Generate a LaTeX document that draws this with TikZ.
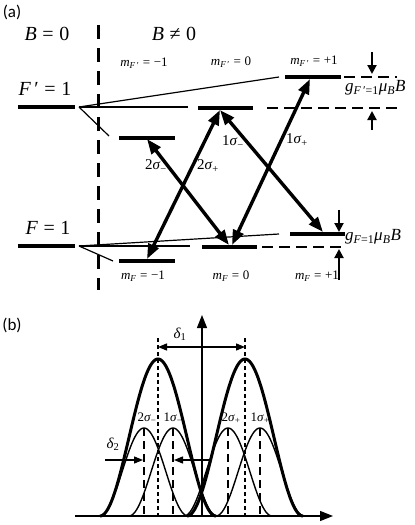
\documentclass[tikz,border=0pt]{standalone}
\usepackage{fontspec}
\setmainfont{Liberation Serif}
\newfontfamily\labfont{Carlito}
\usetikzlibrary{arrows.meta}
\newcommand\eqs{\hspace{0.28em}=\hspace{0.28em}}
\newcommand\sgm{\textit{σ}}
\begin{document}
\begin{tikzpicture}[x=1pt,y=-1pt,
  levelline/.style={line width=4pt},
  thinline/.style={line width=1.2pt},
  extline/.style={line width=2pt, dash pattern=on 11pt off 6pt},
  vdash/.style={line width=3pt, dash pattern=on 14pt off 9pt},
  trans/.style={line width=3.4pt, {Triangle[length=15pt,width=11pt]}-{Triangle[length=15pt,width=11pt]}},
  splitarrow/.style={line width=2pt, -{Triangle[length=9pt,width=9pt]}},
  big/.style={font=\fontsize{20}{24}\selectfont},
  mlab/.style={font=\fontsize{13}{15}\selectfont},
  glab/.style={font=\fontsize{17}{20}\selectfont},
  slab/.style={font=\fontsize{15}{18}\selectfont, inner sep=1pt},
  blab/.style={font=\fontsize{13}{15}\selectfont, inner sep=1pt},
  panel/.style={font=\labfont\fontsize{17}{20}\selectfont},
  thickcurve/.style={line width=3pt},
  thincurve/.style={line width=1.4pt},
  centerdash/.style={line width=1.2pt, dash pattern=on 4pt off 3pt},
  peakdash/.style={line width=1.8pt, dash pattern=on 8pt off 5pt},
  axis/.style={line width=1.3pt, -{Triangle[length=13pt,width=10pt]}},
  darrow/.style={line width=1.3pt, -{Triangle[length=9pt,width=7pt]}}]
\useasboundingbox (0,0) rectangle (415,525);
\fill[white] (0,0) rectangle (415,525);

% ---------------- (a) ----------------
\node[panel] (pa) at (12,12) {(a)};
\node[big] (Bzero) at (47,34) {\textit{B}\eqs 0};
\node[big] (Bnz) at (174,34) {\textit{B}\hspace{0.28em}≠\hspace{0.28em}0};
\coordinate (vt) at (98,25);
\coordinate (vb) at (98,290);
\draw[vdash] (vt) -- (vb);

\node[big] (Fp) at (45,89) {\textit{F}\,′\eqs 1};
\node[big] (F) at (48,228) {\textit{F}\eqs 1};

\node[mlab] (mpm) at (144,63) {\textit{m}\textsubscript{\textit{F}\,′}\eqs −1};
\node[mlab] (mp0) at (231,62) {\textit{m}\textsubscript{\textit{F}\,′}\eqs 0};
\node[mlab] (mpp) at (314,61) {\textit{m}\textsubscript{\textit{F}\,′}\eqs +1};
\node[mlab] (mm) at (143,276) {\textit{m}\textsubscript{\textit{F}}\eqs −1};
\node[mlab] (m0) at (231,276) {\textit{m}\textsubscript{\textit{F}}\eqs 0};
\node[mlab] (mp) at (317,276) {\textit{m}\textsubscript{\textit{F}}\eqs +1};

% upper levels
\coordinate (Ua) at (18,107); \coordinate (Ub) at (75,107);
\coordinate (O1) at (79,107);
\coordinate (Uma) at (119,138); \coordinate (Umb) at (175,138);
\coordinate (U0a) at (198,108); \coordinate (U0b) at (253,108);
\coordinate (Upa) at (285,77); \coordinate (Upb) at (341,77);
\coordinate (Udiag) at (109,136);
\coordinate (Uhor) at (188,107);
\coordinate (Urise) at (279,77);
\coordinate (U0x) at (267,108); \coordinate (U0y) at (397,108);
\coordinate (Upx) at (344,77); \coordinate (Upy) at (397,77);
\draw[levelline] (Ua) -- (Ub);
\draw[levelline] (Uma) -- (Umb);
\draw[levelline] (U0a) -- (U0b);
\draw[levelline] (Upa) -- (Upb);
\draw[thinline] (O1) -- (Udiag);
\draw[thinline] (O1) -- (Uhor);
\draw[thinline] (O1) -- (Urise);
\draw[extline] (U0x) -- (U0y);
\draw[extline] (Upx) -- (Upy);

% lower levels
\coordinate (La) at (18,246); \coordinate (Lb) at (75,246);
\coordinate (O2) at (79,246);
\coordinate (Lma) at (119,261); \coordinate (Lmb) at (175,261);
\coordinate (L0a) at (202,247); \coordinate (L0b) at (257,247);
\coordinate (Lpa) at (290,234); \coordinate (Lpb) at (345,234);
\coordinate (Ldiag) at (113,261);
\coordinate (Lhor) at (190,246);
\coordinate (Lrise) at (279,234);
\coordinate (L0x) at (262,247); \coordinate (L0y) at (345,247);
\draw[levelline] (La) -- (Lb);
\draw[levelline] (Lma) -- (Lmb);
\draw[levelline] (L0a) -- (L0b);
\draw[levelline] (Lpa) -- (Lpb);
\draw[thinline] (O2) -- (Ldiag);
\draw[thinline] (O2) -- (Lhor);
\draw[thinline] (O2) -- (Lrise);
\draw[extline] (L0x) -- (L0y);

% splitting arrows and labels
\coordinate (s1a) at (372,52); \coordinate (s1b) at (372,74);
\coordinate (s2a) at (372,130); \coordinate (s2b) at (372,111);
\coordinate (s3a) at (339,210); \coordinate (s3b) at (339,232);
\coordinate (s4a) at (339,280); \coordinate (s4b) at (339,249);
\draw[splitarrow] (s1a) -- (s1b);
\draw[splitarrow] (s2a) -- (s2b);
\draw[splitarrow] (s3a) -- (s3b);
\draw[splitarrow] (s4a) -- (s4b);
\node[glab, anchor=west, inner sep=0pt] (gu) at (345,88) {\textit{g}\textsubscript{\textit{F}\,′=1}\textit{μ}\textsubscript{\textit{B}}\textit{B}};
\node[glab, anchor=west, inner sep=0pt] (gl) at (345,237) {\textit{g}\textsubscript{\textit{F}=1}\textit{μ}\textsubscript{\textit{B}}\textit{B}};

% transitions
\coordinate (t2pA) at (147,259); \coordinate (t2pB) at (220,110);
\coordinate (t2mA) at (147,139); \coordinate (t2mB) at (229,245);
\coordinate (t1mA) at (220,110); \coordinate (t1mB) at (323,232);
\coordinate (t1pA) at (232,245); \coordinate (t1pB) at (310,79);
\draw[trans] (t2pA) -- (t2pB);
\draw[trans] (t2mA) -- (t2mB);
\draw[trans] (t1mA) -- (t1mB);
\draw[trans] (t1pA) -- (t1pB);
\node[slab] (l2m) at (156,166) {2\sgm\textsubscript{−}};
\node[slab] (l2p) at (208,166) {2\sgm\textsubscript{+}};
\node[slab] (l1m) at (233,142) {1\sgm\textsubscript{−}};
\node[slab] (l1p) at (297,140) {1\sgm\textsubscript{+}};

% ---------------- (b) ----------------
\node[panel] (pb) at (12,325) {(b)};
\coordinate (ax0) at (202,516); \coordinate (axt) at (202,315);
\coordinate (hx0) at (75,516); \coordinate (hxt) at (333,516);
\draw[axis] (ax0) -- (axt);
\draw[axis] (hx0) -- (hxt);

% center dashed lines
\coordinate (c1t) at (158,338); \coordinate (c1b) at (158,516);
\coordinate (c2t) at (245,338); \coordinate (c2b) at (245,516);
\draw[centerdash] (c1t) -- (c1b);
\draw[centerdash] (c2t) -- (c2b);
% peak dashed lines
\foreach \px/\nm in {144/pa1,173/pa2,228/pa3,260/pa4}{
  \coordinate (\nm t) at (\px,428);
  \coordinate (\nm b) at (\px,516);
  \draw[peakdash] (\nm t) -- (\nm b);
}

% curves
\draw[thickcurve] plot[domain=-58:58,samples=81] ({158+\x},{516-157*(0.5+0.5*cos(\x*180/58))});
\draw[thickcurve] plot[domain=-58:58,samples=81] ({245+\x},{516-157*(0.5+0.5*cos(\x*180/58))});
\foreach \cx in {144,173,228,260}{
  \draw[thincurve] plot[domain=-44:44,samples=61] ({\cx+\x},{516-88*(0.5+0.5*cos(\x*180/44))});
}

% delta arrows
\coordinate (d1l) at (158,347); \coordinate (d1r) at (245,347);
\draw[darrow, {Triangle[length=9pt,width=7pt]}-{Triangle[length=9pt,width=7pt]}] (d1l) -- (d1r);
\node[blab, font=\fontsize{15}{18}\selectfont] (dl1) at (180,334) {\textit{δ}\textsubscript{1}};
\coordinate (d2a) at (105,460); \coordinate (d2b) at (143,460);
\coordinate (d2c) at (212,460); \coordinate (d2d) at (174,460);
\draw[darrow] (d2a) -- (d2b);
\draw[darrow] (d2c) -- (d2d);
\node[blab, font=\fontsize{15}{18}\selectfont] (dl2) at (113,444) {\textit{δ}\textsubscript{2}};

\node[blab] (b2m) at (147,418) {2\sgm\textsubscript{−}};
\node[blab] (b1m) at (173,418) {1\sgm\textsubscript{−}};
\node[blab] (b2p) at (231,418) {2\sgm\textsubscript{+}};
\node[blab] (b1p) at (260,418) {1\sgm\textsubscript{+}};
\end{tikzpicture}
\end{document}
